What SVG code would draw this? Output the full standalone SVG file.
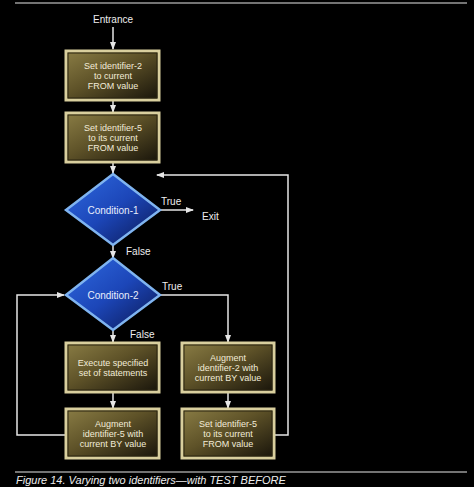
<svg xmlns="http://www.w3.org/2000/svg" width="474" height="487" viewBox="0 0 474 487">
<defs>
<linearGradient id="gold" x1="0" y1="0" x2="1" y2="1">
<stop offset="0" stop-color="#8a7d45"/>
<stop offset="0.45" stop-color="#5e5228"/>
<stop offset="1" stop-color="#17130a"/>
</linearGradient>
<linearGradient id="blue" x1="0" y1="0" x2="1" y2="1">
<stop offset="0" stop-color="#2f6ae0"/>
<stop offset="0.5" stop-color="#1c46b8"/>
<stop offset="1" stop-color="#0a1650"/>
</linearGradient>
<marker id="ah" markerWidth="8" markerHeight="6" refX="7" refY="3" orient="auto" markerUnits="userSpaceOnUse">
<path d="M0,0 L8,3 L0,6 z" fill="#e6e6e6"/>
</marker>
<style>
.box{fill:url(#gold);stroke:#d9cf9e;stroke-width:3}
.inner{fill:none;stroke:#2a2410;stroke-width:1}
.dia{fill:url(#blue);stroke:#7fb4f0;stroke-width:2.5}
.t{font-family:"Liberation Sans",Arial,sans-serif;font-size:9px;fill:#f2ecd8;text-anchor:middle}
.d{font-family:"Liberation Sans",Arial,sans-serif;font-size:10px;fill:#e8eefc;text-anchor:middle}
.l{font-family:"Liberation Sans",Arial,sans-serif;font-size:10px;fill:#eeeeee}
.c{fill:none;stroke:#e6e6e6;stroke-width:1.5}
.rule{stroke:#9a9a9a;stroke-width:1.5}
</style>
</defs>
<rect width="474" height="487" fill="#000"/>
<line class="rule" x1="15" y1="3" x2="467" y2="3"/>
<line class="rule" x1="15" y1="472" x2="467" y2="472"/>
<text x="16" y="484" font-family="Liberation Sans, Arial, sans-serif" font-size="11" font-style="italic" fill="#eeeeee">Figure 14. Varying two identifiers—with TEST BEFORE</text>
<text class="l" x="113" y="23" text-anchor="middle">Entrance</text>

<g id="connectors">
<line class="c" x1="113" y1="27" x2="113" y2="49" marker-end="url(#ah)"/>
<line class="c" x1="113" y1="101" x2="113" y2="112" marker-end="url(#ah)"/>
<line class="c" x1="113" y1="163" x2="113" y2="173" marker-end="url(#ah)"/>
<line class="c" x1="160" y1="210" x2="193" y2="210" marker-end="url(#ah)"/>
<line class="c" x1="113" y1="245" x2="113" y2="258" marker-end="url(#ah)"/>
<line class="c" x1="113" y1="330" x2="113" y2="342" marker-end="url(#ah)"/>
<polyline class="c" points="160,295 228,295 228,342" marker-end="url(#ah)"/>
<line class="c" x1="113" y1="393" x2="113" y2="408" marker-end="url(#ah)"/>
<line class="c" x1="228" y1="393" x2="228" y2="408" marker-end="url(#ah)"/>
<polyline class="c" points="65,435 17,435 17,295 64,295" marker-end="url(#ah)"/>
<polyline class="c" points="275,435 288,435 288,175 157,175" marker-end="url(#ah)"/>
<text class="l" x="161" y="205">True</text>
<text class="l" x="202" y="220">Exit</text>
<text class="l" x="126" y="255">False</text>
<text class="l" x="162" y="290">True</text>
<text class="l" x="130" y="338">False</text>
</g>

<g id="n1">
<rect class="box" x="66" y="51" width="93" height="49"/>
<rect class="inner" x="68" y="53" width="89" height="45"/>
<text class="t" x="113" y="68.7">Set identifier-2</text>
<text class="t" x="113" y="78.7">to current</text>
<text class="t" x="113" y="88.7">FROM value</text>
</g>
<g id="n2">
<rect class="box" x="66" y="113" width="93" height="49"/>
<rect class="inner" x="68" y="115" width="89" height="45"/>
<text class="t" x="113" y="130.7">Set identifier-5</text>
<text class="t" x="113" y="140.7">to its current</text>
<text class="t" x="113" y="150.7">FROM value</text>
</g>
<g id="d1">
<polygon class="dia" points="113,174 160,210 113,245 66,210"/>
<text class="d" x="113" y="214">Condition-1</text>
</g>
<g id="d2">
<polygon class="dia" points="113,258 160,295 113,330 66,295"/>
<text class="d" x="113" y="299">Condition-2</text>
</g>
<g id="n3">
<rect class="box" x="66" y="343" width="93" height="49"/>
<rect class="inner" x="68" y="345" width="89" height="45"/>
<text class="t" x="113" y="365.7">Execute specified</text>
<text class="t" x="113" y="375.7">set of statements</text>
</g>
<g id="n4">
<rect class="box" x="182" y="343" width="92" height="49"/>
<rect class="inner" x="184" y="345" width="88" height="45"/>
<text class="t" x="228" y="360.7">Augment</text>
<text class="t" x="228" y="370.7">identifier-2 with</text>
<text class="t" x="228" y="380.7">current BY value</text>
</g>
<g id="n5">
<rect class="box" x="66" y="409" width="93" height="49"/>
<rect class="inner" x="68" y="411" width="89" height="45"/>
<text class="t" x="113" y="426.7">Augment</text>
<text class="t" x="113" y="436.7">identifier-5 with</text>
<text class="t" x="113" y="446.7">current BY value</text>
</g>
<g id="n6">
<rect class="box" x="182" y="409" width="92" height="49"/>
<rect class="inner" x="184" y="411" width="88" height="45"/>
<text class="t" x="228" y="426.7">Set identifier-5</text>
<text class="t" x="228" y="436.7">to its current</text>
<text class="t" x="228" y="446.7">FROM value</text>
</g>
</svg>
